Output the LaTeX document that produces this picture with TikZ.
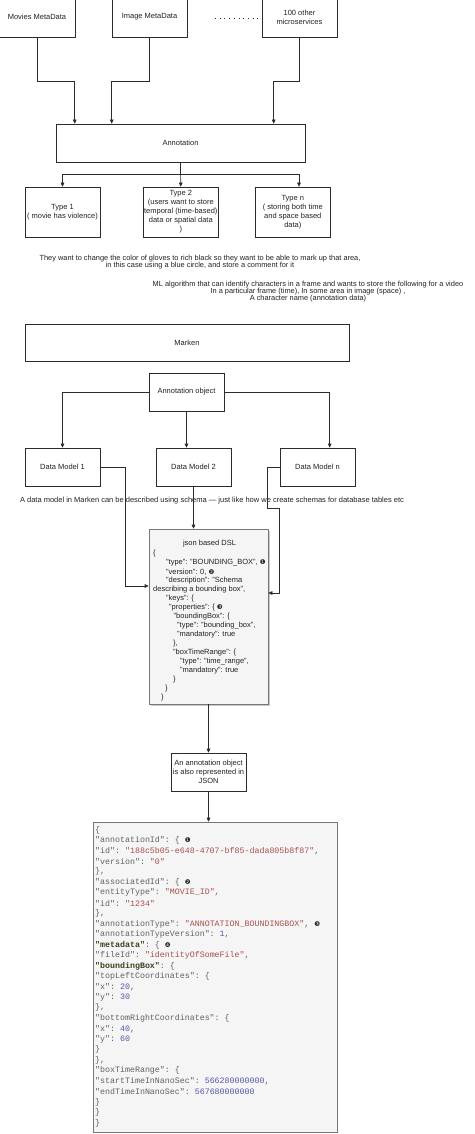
\documentclass[tikz,border=0pt]{standalone}
\usepackage{fontspec}
\setmainfont{Liberation Sans}
\setmonofont{Liberation Mono}
\newfontfamily\djv{DejaVu Sans}
\usetikzlibrary{arrows.meta,shadows}
\definecolor{boxline}{HTML}{2B2B2B}
\definecolor{txt}{HTML}{222222}
\definecolor{panelfill}{HTML}{F5F5F5}
\definecolor{panelline}{HTML}{777777}
\definecolor{jkey}{HTML}{626262}
\definecolor{jstr}{HTML}{A8504C}
\definecolor{jnum}{HTML}{5656A6}
\definecolor{jbold}{HTML}{3E3E22}
\newcommand\myk[1]{\textcolor{jkey}{#1}}
\newcommand\mys[1]{\textcolor{jstr}{#1}}
\newcommand\myn[1]{\textcolor{jnum}{#1}}
\newcommand\myb[1]{\textcolor{jbold}{\bfseries #1}}
\newcommand\mybul[1]{{\djv\fontsize{6.5}{6.5}\selectfont\textcolor{txt}{#1}}}
\begin{document}
\begin{tikzpicture}[x=1pt,y=-1pt,
  box/.style={draw=boxline,line width=0.6pt,fill=white,inner sep=1pt,align=center,
    font=\fontsize{7.5}{9}\selectfont,text=txt},
  arr/.style={draw=boxline,line width=0.6pt,-{Triangle[length=4pt,width=3.6pt]}},
  note/.style={align=center,font=\fontsize{7.4}{6.9}\selectfont,text=txt,inner sep=0pt},
  notebig/.style={align=center,font=\fontsize{7.5}{9}\selectfont,text=txt,inner sep=0pt},
  dslline/.style={anchor=west,inner sep=0pt,font=\fontsize{7.5}{9}\selectfont,text=txt},
  jsline/.style={anchor=west,inner sep=0pt,font=\ttfamily\fontsize{8.3}{10}\selectfont,text=jkey},
  panel/.style={draw=panelline,line width=0.6pt,fill=panelfill},
]
\useasboundingbox[fill=white] (0,0) rectangle (474,1134);

% top services
\node[box,minimum width=76pt,minimum height=40pt] (movies) at (37,17) {Movies MetaData};
\node[box,minimum width=75pt,minimum height=40pt] (image) at (149.5,17) {Image MetaData};
\node[box,minimum width=75pt,minimum height=40pt] (other) at (299.5,17) {100 other\\microservices};
\coordinate (dotA) at (215,18);
\coordinate (dotB) at (258,18);
\draw[boxline,line width=0.9pt,dash pattern=on 0.9pt off 3.8pt] (dotA) -- (dotB);

% annotation
\node[box,minimum width=249pt,minimum height=38pt] (anno) at (180.5,143) {Annotation};
\draw[arr] (movies.south) -- ++(0,44) -| ([xshift=19pt]anno.north west);
\draw[arr] (image.south) -- ++(0,44) -| ([xshift=56pt]anno.north west);
\draw[arr] (other.south) -- ++(0,44) -| ([xshift=218pt]anno.north west);

% types
\node[box,minimum width=75pt,minimum height=50pt] (type1) at (62.5,212) {Type 1\\( movie has violence)};
\node[box,minimum width=75pt,minimum height=50pt] (type2) at (180.8,212) {Type 2\\(users want to store\\temporal (time-based)\\data or spatial data\\)};
\node[box,minimum width=75pt,minimum height=50pt] (typen) at (292.8,212) {Type n\\( storing both time\\and space based\\data)};
\draw[arr] (anno.south) -- ++(0,12) -| (type1.north);
\draw[arr] (anno.south) -- (type2.north);
\draw[arr] (anno.south) -- ++(0,12) -| ([xshift=44pt]typen.north west);

% notes
\node[note] (note1) at (200,262) {They want to change the color of gloves to rich black so they want to be able to mark up that area,\\in this case using a blue circle, and store a comment for it};
\node[note] (note2) at (308,291.5) {ML algorithm that can identify characters in a frame and wants to store the following for a video\\In a particular frame (time), In some area in image (space) ,\\A character name (annotation data)};

% Marken
\node[box,minimum width=324pt,minimum height=37pt] (marken) at (187,342.5) {Marken};

% annotation object and data models
\node[box,minimum width=75pt,minimum height=38pt] (annobj) at (186.5,392) {Annotation object};
\node[box,minimum width=75pt,minimum height=38pt] (dm1) at (62.5,467) {Data Model 1};
\node[box,minimum width=75pt,minimum height=38pt] (dm2) at (193.5,467) {Data Model 2};
\node[box,minimum width=75pt,minimum height=38pt] (dmn) at (317.5,467) {Data Model n};
\draw[arr] (annobj.west) -| (dm1.north);
\draw[arr] (annobj.south) -- (annobj.south |- dm2.north);
\draw[arr] (annobj.east) -| ([xshift=50pt]dmn.north west);

\node[notebig] (note3) at (212,501) {A data model in Marken can be described using schema — just like how we create schemas for database tables etc};

% json based DSL panel
\node[panel,minimum width=119pt,minimum height=175pt,inner sep=0pt,
  drop shadow={shadow xshift=1.6pt,shadow yshift=-1.6pt,fill=black!35,opacity=0.6}] (dsl) at (208.5,616.5) {};
\node[dslline,anchor=center] (dslt) at (209.5,544) {json based DSL};
\node[dslline] (d0) at (153,554) {\{};
\node[dslline] (d1) at (166,563) {"type": "BOUNDING\_BOX", \mybul{❶}};
\node[dslline] (d2) at (166,572) {"version": 0, \mybul{❷}};
\node[dslline] (d3) at (166,581) {"description": "Schema};
\node[dslline] (d4) at (153,590) {describing a bounding box",};
\node[dslline] (d5) at (166,599) {"keys": \{};
\node[dslline] (d6) at (169,608) {"properties": \{ \mybul{❸}};
\node[dslline] (d7) at (173.5,617) {"boundingBox": \{};
\node[dslline] (d8) at (177,626) {"type": "bounding\_box",};
\node[dslline] (d9) at (177,635) {"mandatory": true};
\node[dslline] (d10) at (173,644) {\},};
\node[dslline] (d11) at (173,653) {"boxTimeRange": \{};
\node[dslline] (d12) at (180,662) {"type": "time\_range",};
\node[dslline] (d13) at (180,671) {"mandatory": true};
\node[dslline] (d14) at (173,680) {\}};
\node[dslline] (d15) at (165,689) {\}};
\node[dslline] (d16) at (161,698) {\}};

\coordinate (y586) at (0,586);
\coordinate (y593) at (0,593);
\draw[arr] (dm1.east) -- ++(25,0) |- (dsl.west |- y586);
\draw[arr] (dm2.south) -- (dm2.south |- dsl.north);
\draw[arr] (dmn.west) -- ++(-12,0) -- ++(0,41) -- ++(12,0) |- (dsl.east |- y593);

% annotation object JSON
\node[box,minimum width=75pt,minimum height=38pt] (jnote) at (208.5,772) {An annotation object\\is also represented in\\JSON};
\draw[arr] (dsl.south -| jnote.north) -- (jnote.north);

\node[panel,minimum width=244pt,minimum height=310pt,inner sep=0pt] (json) at (215,977) {};
\draw[arr] (jnote.south) -- (jnote.south |- json.north);

\node[jsline] (j0) at (95,830) {\{};
\node[jsline] (j1) at (95,840.46) {"annotationId": \{ \mybul{❶}};
\node[jsline] (j2) at (95,850.92) {"id": \mys{"188c5b05-e648-4707-bf85-dada805b8f87"},};
\node[jsline] (j3) at (95,861.38) {"version": \mys{"0"}};
\node[jsline] (j4) at (95,871.84) {\},};
\node[jsline] (j5) at (95,882.30) {"associatedId": \{ \mybul{❷}};
\node[jsline] (j6) at (95,892.76) {"entityType": \mys{"MOVIE\_ID"},};
\node[jsline] (j7) at (95,903.22) {"id": \mys{"1234"}};
\node[jsline] (j8) at (95,913.68) {\},};
\node[jsline] (j9) at (95,924.14) {"annotationType": \mys{"ANNOTATION\_BOUNDINGBOX"}, \mybul{❸}};
\node[jsline] (j10) at (95,934.60) {"annotationTypeVersion": \myn{1},};
\node[jsline] (j11) at (95,945.06) {\myb{"metadata"}: \{ \mybul{❹}};
\node[jsline] (j12) at (95,955.52) {"fileId": \mys{"identityOfSomeFile"},};
\node[jsline] (j13) at (95,965.98) {\myb{"boundingBox"}: \{};
\node[jsline] (j14) at (95,976.44) {"topLeftCoordinates": \{};
\node[jsline] (j15) at (95,986.90) {"x": \myn{20},};
\node[jsline] (j16) at (95,997.36) {"y": \myn{30}};
\node[jsline] (j17) at (95,1007.82) {\},};
\node[jsline] (j18) at (95,1018.28) {"bottomRightCoordinates": \{};
\node[jsline] (j19) at (95,1028.74) {"x": \myn{40},};
\node[jsline] (j20) at (95,1039.20) {"y": \myn{60}};
\node[jsline] (j21) at (95,1049.66) {\}};
\node[jsline] (j22) at (95,1060.12) {\},};
\node[jsline] (j23) at (95,1070.58) {"boxTimeRange": \{};
\node[jsline] (j24) at (95,1081.04) {"startTimeInNanoSec": \myn{566280000000},};
\node[jsline] (j25) at (95,1091.50) {"endTimeInNanoSec": \myn{567680000000}};
\node[jsline] (j26) at (95,1101.96) {\}};
\node[jsline] (j27) at (95,1112.42) {\}};
\node[jsline] (j28) at (95,1122.88) {\}};
\end{tikzpicture}
\end{document}
